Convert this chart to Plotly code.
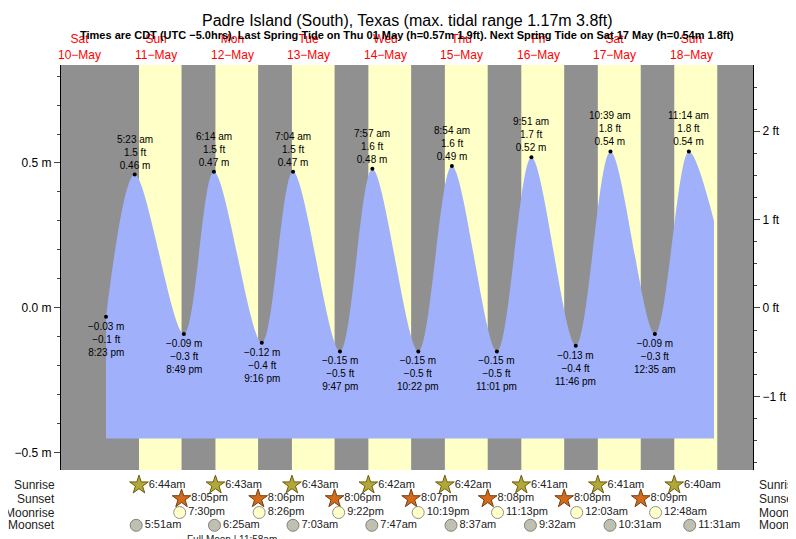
import plotly.graph_objects as go
import pandas as pd

# ---- data ----
tide_times = ["2025-05-10 20:23","2025-05-11 05:23","2025-05-11 20:49","2025-05-12 06:14","2025-05-12 21:16",
              "2025-05-13 07:04","2025-05-13 21:47","2025-05-14 07:57","2025-05-14 22:22","2025-05-15 08:54",
              "2025-05-15 23:01","2025-05-16 09:51","2025-05-16 23:46","2025-05-17 10:39","2025-05-18 00:35",
              "2025-05-18 11:14","2025-05-18 19:08"]
tide_m = [-0.03,0.46,-0.09,0.47,-0.12,0.47,-0.15,0.48,-0.15,0.49,-0.15,0.52,-0.13,0.54,-0.09,0.54,0.30]
tide_ft = [-0.1,1.5,-0.3,1.5,-0.4,1.5,-0.5,1.6,-0.5,1.6,-0.5,1.7,-0.4,1.8,-0.3,1.8,None]
tide_lbl = ["8:23 pm","5:23 am","8:49 pm","6:14 am","9:16 pm","7:04 am","9:47 pm","7:57 am","10:22 pm",
            "8:54 am","11:01 pm","9:51 am","11:46 pm","10:39 am","12:35 am","11:14 am",None]

days = ["2025-05-%02d" % d for d in range(10, 19)]
day_names = ["Sat","Sun","Mon","Tue","Wed","Thu","Fri","Sat","Sun"]

sunrise = ["2025-05-11 06:44","2025-05-12 06:43","2025-05-13 06:43","2025-05-14 06:42","2025-05-15 06:42",
           "2025-05-16 06:41","2025-05-17 06:41","2025-05-18 06:40"]
sunrise_lbl = ["6:44am","6:43am","6:43am","6:42am","6:42am","6:41am","6:41am","6:40am"]
sunset = ["2025-05-11 20:05","2025-05-12 20:06","2025-05-13 20:06","2025-05-14 20:07","2025-05-15 20:08",
          "2025-05-16 20:08","2025-05-17 20:09"]
sunset_lbl = ["8:05pm","8:06pm","8:06pm","8:07pm","8:08pm","8:08pm","8:09pm"]
moonrise = ["2025-05-11 19:30","2025-05-12 20:26","2025-05-13 21:22","2025-05-14 22:19","2025-05-15 23:13",
            "2025-05-17 00:03","2025-05-18 00:48"]
moonrise_lbl = ["7:30pm","8:26pm","9:22pm","10:19pm","11:13pm","12:03am","12:48am"]
moonset = ["2025-05-11 05:51","2025-05-12 06:25","2025-05-13 07:03","2025-05-14 07:47","2025-05-15 08:37",
           "2025-05-16 09:32","2025-05-17 10:31","2025-05-18 11:31"]
moonset_lbl = ["5:51am","6:25am","7:03am","7:47am","8:37am","9:32am","10:31am","11:31am"]
full_moon = "2025-05-12 11:58"

x0 = "2025-05-10 06:16"; x1 = "2025-05-19 07:22"
ymin, ymax = -0.559, 0.838
base = -0.45
FT = 3.28084

fig = go.Figure()
fig.add_trace(go.Scatter(x=[tide_times[0], tide_times[-1]], y=[base, base], mode="lines",
                         line=dict(width=0, color="rgba(0,0,0,0)"), hoverinfo="skip", showlegend=False))
fig.add_trace(go.Scatter(x=tide_times, y=tide_m, mode="lines", line=dict(width=0, shape="spline", smoothing=0.9),
                         fill="tonexty", fillcolor="#a0b0fa", showlegend=False, hoverinfo="skip"))
fig.add_trace(go.Scatter(x=tide_times[:-1], y=tide_m[:-1], mode="markers", marker=dict(size=4, color="black"),
                         showlegend=False))

def fmt(v, u):
    s = ("%.2f" % v) if u == "m" else ("%.1f" % v)
    return s.replace("-", "−") + " " + u

for t, m, f, l in zip(tide_times[:-1], tide_m[:-1], tide_ft[:-1], tide_lbl[:-1]):
    if m > 0.2:
        fig.add_annotation(x=t, y=m, text=f"{l}<br>{fmt(f,'ft')}<br>{fmt(m,'m')}", showarrow=False,
                           yanchor="bottom", yshift=2, font=dict(size=10, color="black"))
    else:
        fig.add_annotation(x=t, y=m, text=f"{fmt(m,'m')}<br>{fmt(f,'ft')}<br>{l}", showarrow=False,
                           yanchor="top", yshift=-2, font=dict(size=10, color="black"))

shapes = [dict(type="rect", xref="x", yref="y domain", x0=x0, x1=x1, y0=0, y1=1,
               fillcolor="#909090", line_width=0, layer="below")]
ends = sunset + ["2025-05-18 20:09"]
for s, e in zip(sunrise, ends):
    shapes.append(dict(type="rect", xref="x", yref="y domain", x0=s, x1=e, y0=0, y1=1,
                       fillcolor="#ffffc8", line_width=0, layer="below"))
fig.update_layout(shapes=shapes)

for d, n in zip(days, day_names):
    fig.add_annotation(x=pd.Timestamp(d) + pd.Timedelta(hours=12), y=1, xref="x", yref="paper",
                       yanchor="bottom", yshift=1, showarrow=False, text=f"{n}<br>{int(d[-2:])}−May",
                       font=dict(size=12, color="red"))

rows = [("Sunrise", 476, sunrise, sunrise_lbl, "star", "#b0a838", "#705a10", 14),
        ("Sunset", 490, sunset, sunset_lbl, "star", "#d46a1c", "#704010", 14),
        ("Moonrise", 504, moonrise, moonrise_lbl, "circle", "#ffffc8", "#909090", 12),
        ("Moonset", 517, moonset, moonset_lbl, "circle", "#c0c0b0", "#808080", 12)]
for name, yy, xs, lbls, sym, col, lc, sz in rows:
    fig.add_trace(go.Scatter(x=xs, y=[yy]*len(xs), xaxis="x2", yaxis="y3", mode="markers+text",
                             text=lbls, textposition="middle right", textfont=dict(size=11, color="#222"),
                             marker=dict(symbol=sym, size=sz, color=col, line=dict(color=lc, width=1)),
                             showlegend=False, cliponaxis=False))
    fig.add_annotation(x=0, y=yy, xref="paper", yref="y3", xanchor="right", xshift=-4, showarrow=False,
                       text=name, font=dict(size=12, color="#222"))
    fig.add_annotation(x=1, y=yy, xref="paper", yref="y3", xanchor="left", xshift=4, showarrow=False,
                       text=name, font=dict(size=12, color="#222"))
fig.add_annotation(x=full_moon, y=531, xref="x2", yref="y3", showarrow=False, text="Full Moon | 11:58am",
                   font=dict(size=10, color="#222"))

fig.update_layout(
    width=796, height=539, margin=dict(l=53, r=51, t=57, b=3, autoexpand=False),
    paper_bgcolor="white", plot_bgcolor="white", font=dict(family="Liberation Sans, Arial", color="black"),
    xaxis=dict(range=[x0, x1], visible=False, domain=[0, 1], anchor="y"),
    xaxis2=dict(range=[x0, x1], visible=False, domain=[0, 1], anchor="y3", matches="x"),
    yaxis=dict(domain=[0.1545, 1], range=[ymin, ymax], tickvals=[-0.5, 0, 0.5], automargin=False,
               ticktext=["−0.5 m", "0.0 m", "0.5 m"], showgrid=False, zeroline=False, showline=True,
               linecolor="black", linewidth=1, ticks="outside", ticklen=6,
               minor=dict(dtick=0.1, ticks="outside", ticklen=3), tickfont=dict(size=12)),
    yaxis2=dict(overlaying="y", side="right", range=[ymin*FT, ymax*FT], tickvals=[-1, 0, 1, 2], automargin=False,
                ticktext=["−1 ft", "0 ft", "1 ft", "2 ft"], showgrid=False, zeroline=False, showline=True,
                linecolor="black", linewidth=1, ticks="outside", ticklen=6,
                minor=dict(dtick=0.25, ticks="outside", ticklen=3), tickfont=dict(size=12)),
    yaxis3=dict(domain=[0, 0.152], range=[536, 462], visible=False),
)
fig.add_annotation(x=0.5, y=1, xref="paper", yref="paper", yanchor="middle", yshift=45, showarrow=False,
                   text="Padre Island (South), Texas (max. tidal range 1.17m 3.8ft)", font=dict(size=16))
fig.add_annotation(x=0.5, y=1, xref="paper", yref="paper", yanchor="middle", yshift=30, showarrow=False,
                   text="<b>Times are CDT (UTC −5.0hrs). Last Spring Tide on Thu 01 May (h=0.57m 1.9ft). Next Spring Tide on Sat 17 May (h=0.54m 1.8ft)</b>",
                   font=dict(size=11))
fig.add_trace(go.Scatter(x=[x0], y=[0], yaxis="y2", mode="markers", marker=dict(opacity=0), showlegend=False,
                         hoverinfo="skip"))
fig.write_html("out.html")
